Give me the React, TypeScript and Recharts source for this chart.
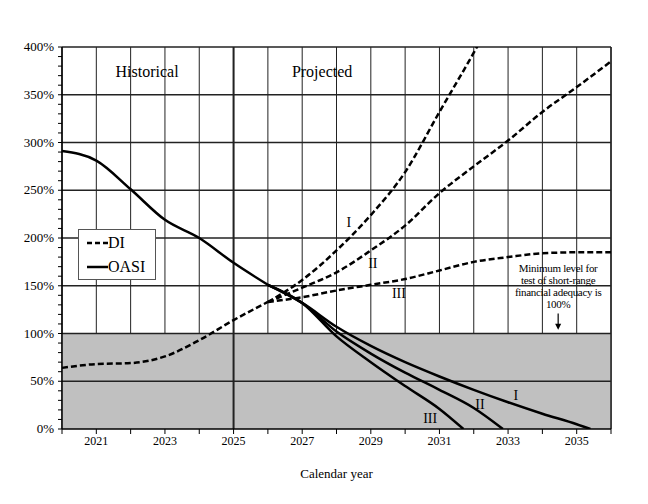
import {
  LineChart,
  Line,
  XAxis,
  YAxis,
  CartesianGrid,
  ReferenceArea,
  ReferenceLine,
  ReferenceDot,
  Legend,
} from 'recharts';

// calendar years on the axis
const YEARS = [2020, 2021, 2022, 2023, 2024, 2025, 2026, 2027, 2028, 2029, 2030, 2031, 2032, 2033, 2034, 2035, 2036];
const Y_MAJOR = [0, 50, 100, 150, 200, 250, 300, 350, 400];
const Y_TICKS = Array.from({ length: 41 }, (_, i) => i * 10);

// historical ratios (%)
const HIST_YEARS = [2020, 2021, 2022, 2023, 2024, 2025, 2026];
const DI_HIST = [64, 68, 69, 76, 93, 114, 133];
const OASI_HIST = [291, 281, 251, 219, 200, 174, 151];

// projected DI, alternatives I / II / III
const DI_I_YEARS = [2026, 2027, 2028, 2029, 2030, 2031, 2032, 2033];
const DI_I = [133, 156, 187, 224, 269, 332, 394, 460];
const DI_PROJ_YEARS = [2026, 2027, 2028, 2029, 2030, 2031, 2032, 2033, 2034, 2035, 2036];
const DI_II = [133, 148, 164, 187, 213, 247, 275, 302, 332, 358, 385];
const DI_III = [133, 138, 145, 151, 157, 166, 175, 180, 184, 185, 185];

// projected OASI, alternatives I / II / III (run to depletion)
const OASI_I_YEARS = [2026, 2027, 2028, 2029, 2030, 2031, 2032, 2033, 2034, 2035, 2035.4];
const OASI_I = [151, 132, 107, 87, 70, 55, 41, 28, 16, 5, 0];
const OASI_II_YEARS = [2026, 2027, 2028, 2029, 2030, 2031, 2032, 2032.85];
const OASI_II = [151, 132, 102, 79, 59, 41, 22, 0];
const OASI_III_YEARS = [2026, 2027, 2028, 2029, 2030, 2031, 2031.7];
const OASI_III = [151, 132, 97, 70, 45, 21, 0];

const ALT_LABELS = [
  { year: 2028.36, value: 217, text: 'I' },
  { year: 2029.06, value: 174, text: 'II' },
  { year: 2029.82, value: 142, text: 'III' },
  { year: 2033.23, value: 36, text: 'I' },
  { year: 2032.18, value: 26, text: 'II' },
  { year: 2030.73, value: 11, text: 'III' },
];

const NOTE_LINES = ['Minimum level for', 'test of short-range', 'financial adequacy is', '100%'];

const zip = (xs: number[], ys: number[]) => xs.map((year, i) => ({ year, value: ys[i] }));

const FONT = "'Liberation Serif', 'DejaVu Serif', serif";

function YTick(props: any) {
  const { x, y, payload } = props;
  if (payload.value % 50 !== 0) return null;
  return (
    <text x={x - 2} y={y} dy={4} textAnchor="end" fontSize={13} style={{ fontFamily: FONT }} fill="#000">
      {payload.value}%
    </text>
  );
}

function LegendBox() {
  return (
    <div
      style={{
        width: 78,
        height: 51,
        border: '1px solid #555',
        background: '#fff',
        fontFamily: FONT,
        fontSize: 16,
        lineHeight: '24px',
        paddingTop: 1,
        boxSizing: 'border-box',
      }}
    >
      <div style={{ display: 'flex', alignItems: 'center', paddingLeft: 8 }}>
        <svg width={21} height={6}>
          <line x1={0} y1={3} x2={21} y2={3} stroke="#000" strokeWidth={2.5} strokeDasharray="5 3" />
        </svg>
        <span>DI</span>
      </div>
      <div style={{ display: 'flex', alignItems: 'center', paddingLeft: 8 }}>
        <svg width={21} height={6}>
          <line x1={0} y1={3} x2={21} y2={3} stroke="#000" strokeWidth={2.5} />
        </svg>
        <span>OASI</span>
      </div>
    </div>
  );
}

export default function App() {
  const dashed = { stroke: '#000', strokeWidth: 2.5, strokeDasharray: '6 3', dot: false, isAnimationActive: false, type: 'monotone' as const };
  const solid = { stroke: '#000', strokeWidth: 2.5, dot: false, isAnimationActive: false, type: 'monotone' as const };
  const noteYear = 2034.46;
  const txt = { fontFamily: FONT, fill: '#000' };

  return (
    <div style={{ width: 640, height: 496, fontFamily: FONT }}>
      <LineChart width={640} height={496} margin={{ top: 39, right: 37, bottom: 15, left: 6 }} style={{ fontFamily: FONT }}>
        <ReferenceArea y1={0} y2={100} fill="#c0c0c0" fillOpacity={1} stroke="none" />
        <CartesianGrid horizontal={false} stroke="#222" strokeWidth={1} />
        {Y_MAJOR.slice(1).map((v) => (
          <ReferenceLine key={`h${v}`} y={v} stroke="#222" strokeWidth={1.5} />
        ))}
        <ReferenceLine x={2025} stroke="#222" strokeWidth={2} />
        <ReferenceLine x={2036} stroke="#222" strokeWidth={1.5} />
        <XAxis
          dataKey="year"
          type="number"
          domain={[2020, 2036]}
          ticks={YEARS}
          interval={0}
          tickSize={5}
          tickFormatter={(y: number) => (y % 2 === 1 ? String(y) : '')}
          tick={{ fontSize: 12, ...txt }}
          axisLine={{ stroke: '#000', strokeWidth: 1.5 }}
          tickLine={{ stroke: '#000' }}
          height={60}
          label={{ value: 'Calendar year', position: 'insideBottom', offset: 11, fontSize: 13, ...txt }}
        />
        <YAxis
          type="number"
          domain={[0, 400]}
          allowDataOverflow
          ticks={Y_TICKS}
          interval={0}
          tickSize={4}
          width={48}
          tick={<YTick />}
          axisLine={{ stroke: '#000', strokeWidth: 1.5 }}
          tickLine={{ stroke: '#000' }}
        />
        <Legend
          content={<LegendBox />}
          layout="horizontal"
          verticalAlign="middle"
          align="center"
          wrapperStyle={{ left: 70, top: 221, width: 78, height: 51 }}
        />

        <Line {...dashed} data={zip(HIST_YEARS, DI_HIST)} dataKey="value" name="DI" />
        <Line {...dashed} data={zip(DI_I_YEARS, DI_I)} dataKey="value" name="DI I" />
        <Line {...dashed} data={zip(DI_PROJ_YEARS, DI_II)} dataKey="value" name="DI II" />
        <Line {...dashed} data={zip(DI_PROJ_YEARS, DI_III)} dataKey="value" name="DI III" />
        <Line {...solid} data={zip(HIST_YEARS, OASI_HIST)} dataKey="value" name="OASI" />
        <Line {...solid} data={zip(OASI_I_YEARS, OASI_I)} dataKey="value" name="OASI I" />
        <Line {...solid} data={zip(OASI_II_YEARS, OASI_II)} dataKey="value" name="OASI II" />
        <Line {...solid} data={zip(OASI_III_YEARS, OASI_III)} dataKey="value" name="OASI III" />

        {ALT_LABELS.map((l, i) => (
          <ReferenceDot
            key={`alt${i}`}
            x={l.year}
            y={l.value}
            r={0}
            stroke="none"
            label={{ value: l.text, position: 'center', fontSize: 14, ...txt }}
          />
        ))}
        <ReferenceDot x={2022.48} y={375} r={0} stroke="none" label={{ value: 'Historical', position: 'center', fontSize: 16, ...txt }} />
        <ReferenceDot x={2027.58} y={375} r={0} stroke="none" label={{ value: 'Projected', position: 'center', fontSize: 16, ...txt }} />
        {NOTE_LINES.map((t, i) => (
          <ReferenceDot
            key={`note${i}`}
            x={noteYear}
            y={168.5 - i * 12.6}
            r={0}
            stroke="none"
            label={{ value: t, position: 'center', fontSize: 11, letterSpacing: -0.3, ...txt }}
          />
        ))}
        <ReferenceLine segment={[{ x: noteYear, y: 121 }, { x: noteYear, y: 106 }]} stroke="#000" strokeWidth={1.2} />
        <ReferenceDot
          x={noteYear}
          y={104}
          r={0}
          shape={(p: any) => <polygon points={`${p.cx - 3},${p.cy - 6} ${p.cx + 3},${p.cy - 6} ${p.cx},${p.cy}`} fill="#000" />}
        />
      </LineChart>
    </div>
  );
}
